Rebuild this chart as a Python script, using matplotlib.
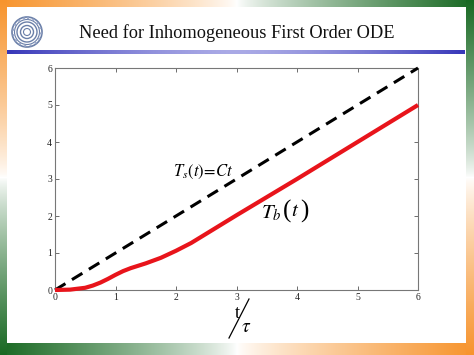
import numpy as np
import matplotlib
matplotlib.use("Agg")
import matplotlib.pyplot as plt
from matplotlib.lines import Line2D
from matplotlib.patches import Circle

# ---- data ----
t_line = [0, 6]
ts_line = [0, 6]
t_b = [0, 0.25, 0.5, 0.625, 0.75, 0.875, 1.0, 1.125, 1.25, 1.5, 1.75, 2.0, 2.25, 2.5,
       3.0, 3.5, 4.0, 4.5, 5.0, 5.5, 6.0]
T_b = [0, 0.01, 0.06, 0.12, 0.2, 0.3, 0.41, 0.51, 0.59, 0.72, 0.87, 1.06, 1.27, 1.52,
       2.02, 2.51, 3.0, 3.5, 4.0, 4.5, 5.0]
xticks = [0, 1, 2, 3, 4, 5, 6]
yticks = [0, 1, 2, 3, 4, 5, 6]
title = "Need for Inhomogeneous First Order ODE"

plt.rcParams['mathtext.fontset'] = 'stix'
plt.rcParams['font.family'] = ['Liberation Serif', 'DejaVu Serif']

W, H = 474, 355
fig = plt.figure(figsize=(W / 100, H / 100), dpi=100)

# ---- slide background with gradient border ----
bg = fig.add_axes([0, 0, 1, 1])
bg.axis('off')
orange = np.array([247, 148, 45]) / 255
green = np.array([25, 105, 35]) / 255
white = np.array([1.0, 1.0, 1.0])

def grad(n, c1, c2):
    s = np.linspace(0, 1, n)[:, None]
    w1 = np.clip(1 - 2 * s, 0, 1) ** 0.8
    w2 = np.clip(2 * s - 1, 0, 1) ** 0.8
    return w1 * c1 + w2 * c2 + (1 - w1 - w2) * white

img = np.ones((H, W, 3))
img[:7, :, :] = grad(W, orange, green)[None, :, :]
img[343:, :, :] = grad(W, green, orange)[None, :, :]
img[:, :7, :] = grad(H, orange, green)[:, None, :]
img[:, 466:, :] = grad(H, green, orange)[:, None, :]
bg.imshow(img, extent=[0, W, H, 0], aspect='auto', zorder=0)

# blue bar under title
bar = np.ones((1, 460, 3))
s = np.linspace(0, 1, 460)
blue = np.array([55, 55, 185]) / 255
light = np.array([170, 170, 230]) / 255
mix = (np.abs(s - 0.5) * 2) ** 1.5
bar[0] = mix[:, None] * blue + (1 - mix[:, None]) * light
bg.imshow(bar, extent=[7, 465, 54, 50], aspect='auto', zorder=1)
bg.set_xlim(0, W)
bg.set_ylim(H, 0)

# logo
for r, lw in [(15, 1.2), (12.5, 0.8), (10, 1.0), (6.5, 1.0), (3.5, 0.8)]:
    bg.add_patch(Circle((27, 32), r, fill=False, ec='#6a7fa8', lw=lw, zorder=2))
bg.add_patch(Circle((27, 32), 13.8, fill=False, ec='#9aa8c8', lw=1.5, ls=':', zorder=2))

fig.text(237 / W, 1 - 33 / H, title, ha='center', va='center', fontsize=13.2,
         color='#111111')

# ---- main axes ----
ax = fig.add_axes([55 / W, 1 - 290 / H, (418 - 55) / W, (290 - 68) / H])
ax.plot(t_line, ts_line, color='black', lw=2.2, ls=(0, (4, 2.5)), zorder=3, clip_on=False)
ax.plot(t_b, T_b, color='#e8141b', lw=3.0, zorder=4, clip_on=False,
        solid_capstyle='butt', solid_joinstyle='round')
ax.set_xlim(0, 6)
ax.set_ylim(0, 6)
ax.set_xticks(xticks)
ax.set_yticks(yticks)
ax.tick_params(direction='in', top=True, right=True, length=3, width=0.6,
               labelsize=7, colors='#555555', labelcolor='#222222', pad=2)
for sp in ax.spines.values():
    sp.set_color('#777777')
    sp.set_linewidth(0.8)

ax.text(2.45, 3.2, r"$T_s(t)\!=\!Ct$", fontsize=12, ha='center', va='center')
# T_b(t) with tall parentheses
fig.text(282 / W, 1 - 213 / H, r"$T_b$", fontsize=15, ha='right', va='center')
fig.text(283 / W, 1 - 211 / H, "(", fontsize=18, ha='left', va='center')
fig.text(295 / W, 1 - 212 / H, r"$t$", fontsize=15, ha='center', va='center')
fig.text(300 / W, 1 - 211 / H, ")", fontsize=18, ha='left', va='center')

# x label  t / tau
fig.text(237 / W, 1 - 313 / H, "t", fontsize=13, ha='center', va='center')
fig.add_artist(Line2D([229 / W, 249 / W], [1 - 338 / H, 1 - 299 / H],
                      color='black', lw=0.9))
fig.text(246 / W, 1 - 328 / H, r"$\tau$", fontsize=14, ha='center', va='center')

fig.savefig("out.png", dpi=100)
